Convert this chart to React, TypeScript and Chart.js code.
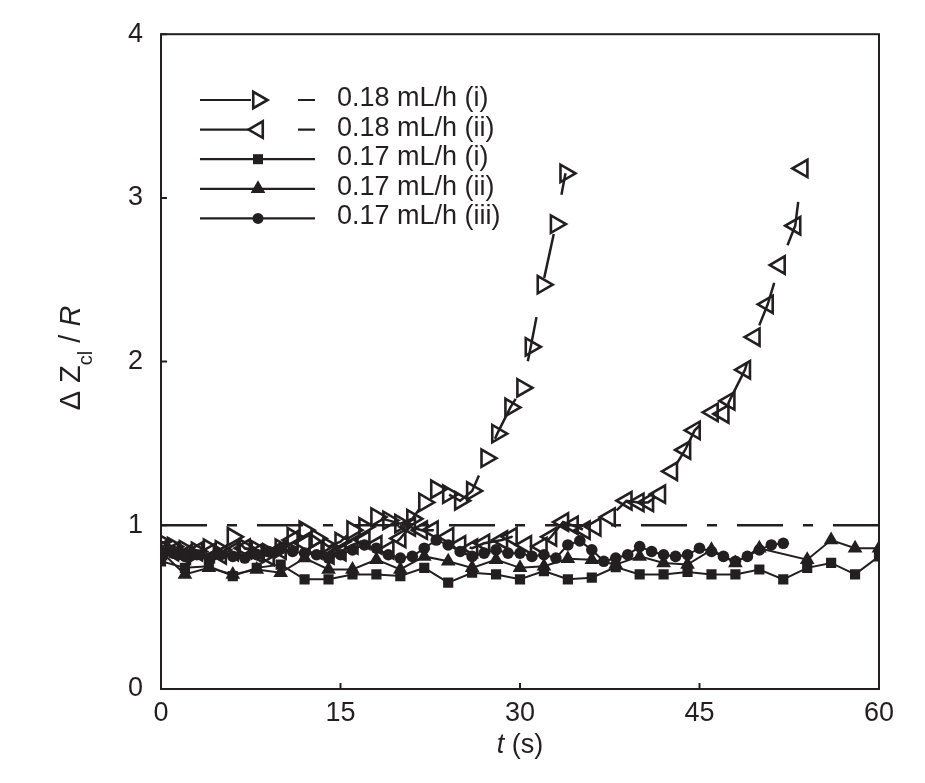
import React, { useEffect, useRef } from 'react';
import { Chart, registerables } from 'chart.js';

Chart.register(...registerables);

const FONT = '"Liberation Sans", Arial, Helvetica, sans-serif';
const INK = '#231f20';

// 0.18 mL/h (i)  open right triangles, dashed
const tA = [0, 1, 2, 3, 4, 5, 6, 7, 8, 9, 10, 11, 12, 13, 14, 15, 16, 17, 18, 19, 20, 21, 22, 23, 24, 25, 26, 27.2, 28.1, 29.2, 30.2, 30.9, 31.9, 33.0, 33.8];
const yA = [0.90, 0.87, 0.85, 0.84, 0.86, 0.85, 0.93, 0.86, 0.85, 0.83, 0.86, 0.93, 0.97, 0.92, 0.87, 0.90, 0.97, 0.99, 1.05, 1.03, 1.01, 1.04, 1.14, 1.22, 1.19, 1.15, 1.21, 1.41, 1.56, 1.72, 1.84, 2.09, 2.47, 2.84, 3.15];

// 0.18 mL/h (ii)  open left triangles, dashed
const tB = [0, 1, 2, 3, 4, 5, 6, 7, 8, 9, 10, 11, 12, 13, 14, 15, 16, 17, 18, 19, 20, 20.8, 21.8, 22.7, 24, 25, 26, 27, 28.5, 29.3, 30.5, 31.8, 32.6, 33.6, 34.4, 35.4, 36.3, 37.5, 38.9, 39.9, 40.7, 41.7, 42.7, 43.8, 44.6, 46.1, 47.0, 47.5, 48.8, 49.6, 50.7, 51.7, 53.0, 53.6];
const yB = [0.85, 0.84, 0.82, 0.84, 0.83, 0.82, 0.84, 0.86, 0.83, 0.81, 0.85, 0.91, 0.89, 0.85, 0.82, 0.84, 0.88, 0.91, 0.88, 0.85, 0.92, 0.99, 0.97, 0.97, 0.93, 0.88, 0.86, 0.89, 0.91, 0.93, 0.88, 0.87, 0.93, 1.02, 1.00, 0.97, 0.99, 1.05, 1.15, 1.14, 1.14, 1.19, 1.33, 1.46, 1.58, 1.69, 1.68, 1.76, 1.95, 2.15, 2.35, 2.59, 2.83, 3.18];

// 0.17 mL/h (i)  filled squares
const tC = [0, 2, 4, 6, 8, 10, 12, 14, 16, 18, 20, 22, 24, 26, 28, 30, 32, 34, 36, 38, 40, 42, 44, 46, 48, 50, 52, 54, 56, 58, 60];
const yC = [0.78, 0.74, 0.75, 0.69, 0.74, 0.76, 0.67, 0.67, 0.70, 0.70, 0.69, 0.74, 0.65, 0.71, 0.70, 0.67, 0.72, 0.67, 0.68, 0.745, 0.70, 0.70, 0.715, 0.70, 0.70, 0.73, 0.67, 0.74, 0.77, 0.70, 0.81];

// 0.17 mL/h (ii)  filled triangles
const tD = [0, 2, 4, 6, 8, 10, 12, 14, 16, 18, 20, 22, 24, 26, 28, 30, 32, 34, 36, 38, 40, 42, 44, 46, 48, 50, 54, 56, 58, 60];
const yD = [0.84, 0.70, 0.74, 0.70, 0.73, 0.71, 0.80, 0.73, 0.73, 0.79, 0.73, 0.81, 0.78, 0.74, 0.79, 0.74, 0.75, 0.795, 0.79, 0.76, 0.81, 0.77, 0.76, 0.85, 0.77, 0.86, 0.79, 0.91, 0.86, 0.86];

// 0.17 mL/h (iii)  filled circles
const tE = [0, 1, 2, 3, 4, 5, 6, 7, 8, 9, 10, 11, 12, 13, 14, 15, 16, 17, 18, 19, 20, 21, 22, 23, 24, 25, 26, 27, 28, 29, 30, 31, 32, 33, 34, 35, 36, 37, 38, 39, 40, 41, 42, 43, 44, 45, 46, 47, 48, 49, 50, 51, 52];
const yE = [0.84, 0.83, 0.81, 0.82, 0.80, 0.82, 0.81, 0.80, 0.82, 0.84, 0.86, 0.84, 0.83, 0.82, 0.80, 0.82, 0.85, 0.88, 0.86, 0.82, 0.80, 0.81, 0.86, 0.91, 0.88, 0.84, 0.81, 0.83, 0.85, 0.83, 0.83, 0.81, 0.82, 0.80, 0.88, 0.905, 0.85, 0.78, 0.80, 0.82, 0.87, 0.84, 0.82, 0.81, 0.82, 0.86, 0.84, 0.81, 0.78, 0.81, 0.85, 0.88, 0.89];

// reference line at 1
const tRef = [0, 60];
const yRef = [1, 1];

const xTicks = [0, 15, 30, 45, 60];
const yTicks = [0, 1, 2, 3, 4];
const legendLabels = ['0.18 mL/h (i)', '0.18 mL/h (ii)', '0.17 mL/h (i)', '0.17 mL/h (ii)', '0.17 mL/h (iii)'];

const pts = (t: number[], y: number[]) => t.map((x, i) => ({ x, y: y[i] }));

function drawMarker(ctx: CanvasRenderingContext2D, kind: string, x: number, y: number) {
  ctx.save();
  ctx.strokeStyle = INK;
  ctx.fillStyle = INK;
  ctx.beginPath();
  if (kind === 'right' || kind === 'left' || kind === 'up') {
    const r = kind === 'up' ? 8.5 : 9.5;
    let rad = kind === 'right' ? Math.PI / 2 : kind === 'left' ? -Math.PI / 2 : 0;
    ctx.moveTo(x + Math.sin(rad) * r, y - Math.cos(rad) * r);
    rad += (2 * Math.PI) / 3;
    ctx.lineTo(x + Math.sin(rad) * r, y - Math.cos(rad) * r);
    rad += (2 * Math.PI) / 3;
    ctx.lineTo(x + Math.sin(rad) * r, y - Math.cos(rad) * r);
    ctx.closePath();
    if (kind === 'up') {
      ctx.fill();
    } else {
      ctx.lineWidth = 2.6;
      ctx.fillStyle = '#fff';
      ctx.fill();
      ctx.stroke();
    }
  } else if (kind === 'square') {
    ctx.rect(x - 5, y - 5, 10, 10);
    ctx.fill();
  } else if (kind === 'circle') {
    ctx.arc(x, y, 5.5, 0, Math.PI * 2);
    ctx.fill();
  }
  ctx.restore();
}

const decorPlugin = {
  id: 'decor',
  afterDraw(chart: any) {
    const { ctx, chartArea: a, scales } = chart;
    ctx.save();
    ctx.strokeStyle = INK;
    ctx.lineWidth = 2;
    ctx.strokeRect(a.left, a.top, a.right - a.left, a.bottom - a.top);
    ctx.beginPath();
    for (const v of xTicks) {
      const px = scales.x.getPixelForValue(v);
      ctx.moveTo(px, a.bottom);
      ctx.lineTo(px, a.bottom - 6);
    }
    for (const v of yTicks) {
      const py = scales.y.getPixelForValue(v);
      ctx.moveTo(a.left, py);
      ctx.lineTo(a.left + 6, py);
    }
    ctx.stroke();

    // legend
    const kinds = ['right', 'left', 'square', 'up', 'circle'];
    legendLabels.forEach((label, i) => {
      const ly = 100 + i * 29.6;
      ctx.strokeStyle = INK;
      ctx.lineWidth = 2.2;
      ctx.setLineDash([]);
      ctx.beginPath();
      if (i < 2) {
        ctx.moveTo(200, ly);
        ctx.lineTo(251, ly);
        ctx.moveTo(298, ly);
        ctx.lineTo(315, ly);
      } else {
        ctx.moveTo(200, ly);
        ctx.lineTo(315, ly);
      }
      ctx.stroke();
      drawMarker(ctx, kinds[i], 258, ly);
      ctx.fillStyle = INK;
      ctx.font = `27px ${FONT}`;
      ctx.textAlign = 'left';
      ctx.textBaseline = 'alphabetic';
      ctx.fillText(label, 337, ly + 6);
    });

    // x title: t (s)
    ctx.fillStyle = INK;
    ctx.textBaseline = 'alphabetic';
    ctx.textAlign = 'left';
    const fI = `italic 27px ${FONT}`;
    const fN = `27px ${FONT}`;
    ctx.font = fI;
    const wT = ctx.measureText('t').width;
    ctx.font = fN;
    const wS = ctx.measureText(' (s)').width;
    const cx = (a.left + a.right) / 2;
    const x0 = cx - (wT + wS) / 2;
    ctx.font = fI;
    ctx.fillText('t', x0, 753);
    ctx.font = fN;
    ctx.fillText(' (s)', x0 + wT, 753);

    // y title: ΔZcl / R
    ctx.save();
    ctx.translate(80, 358);
    ctx.rotate(-Math.PI / 2);
    const fBig = `29px ${FONT}`;
    const fSub = `20px ${FONT}`;
    const fIt = `italic 29px ${FONT}`;
    const parts = [
      { s: '\u0394 Z', f: fBig, dy: 0 },
      { s: 'cl', f: fSub, dy: 12 },
      { s: ' / ', f: fBig, dy: 0 },
      { s: 'R', f: fIt, dy: 0 },
    ];
    let total = 0;
    const ws = parts.map((p) => {
      ctx.font = p.f;
      const w = ctx.measureText(p.s).width;
      total += w;
      return w;
    });
    let px = -total / 2;
    parts.forEach((p, i) => {
      ctx.font = p.f;
      ctx.fillText(p.s, px, p.dy);
      px += ws[i];
    });
    ctx.restore();
    ctx.restore();
  },
};

export default function App() {
  const ref = useRef<HTMLCanvasElement | null>(null);
  useEffect(() => {
    if (!ref.current) return;
    const openTri = (rotation: number) => ({
      pointStyle: 'triangle' as const,
      rotation,
      pointRadius: 10,
      pointBorderWidth: 2.6,
      pointBackgroundColor: 'rgba(0,0,0,0)',
      pointBorderColor: INK,
      borderColor: INK,
      borderWidth: 2.5,
      borderDash: [45, 40],
    });
    const chart = new Chart(ref.current, {
      type: 'line',
      data: {
        datasets: [
          {
            label: 'ref',
            data: pts(tRef, yRef),
            borderColor: INK,
            borderWidth: 2.5,
            borderDash: [46, 20, 10, 20],
            pointRadius: 0,
          },
          {
            label: legendLabels[2],
            data: pts(tC, yC),
            borderColor: INK,
            borderWidth: 2,
            pointStyle: 'rect',
            pointRadius: 7.2,
            pointBorderWidth: 0,
            pointBackgroundColor: INK,
          },
          {
            label: legendLabels[3],
            data: pts(tD, yD),
            borderColor: INK,
            borderWidth: 2,
            pointStyle: 'triangle',
            pointRadius: 8.5,
            pointBorderWidth: 0,
            pointBackgroundColor: INK,
          },
          {
            label: legendLabels[4],
            data: pts(tE, yE),
            borderColor: INK,
            borderWidth: 2,
            pointStyle: 'circle',
            pointRadius: 5.8,
            pointBorderWidth: 0,
            pointBackgroundColor: INK,
          },
          { label: legendLabels[0], data: pts(tA, yA), ...openTri(90) },
          { label: legendLabels[1], data: pts(tB, yB), ...openTri(-90) },
        ],
      },
      options: {
        animation: false,
        responsive: false,
        events: [],
        layout: { padding: { top: 34, right: 46, left: 0, bottom: 0 } },
        plugins: { legend: { display: false }, tooltip: { enabled: false }, title: { display: false } },
        elements: { line: { tension: 0 } },
        scales: {
          x: {
            type: 'linear',
            min: 0,
            max: 60,
            afterFit: (s: any) => {
              s.height = 94;
            },
            afterBuildTicks: (s: any) => {
              s.ticks = xTicks.map((v) => ({ value: v }));
            },
            grid: { display: false, drawTicks: false },
            border: { display: false },
            ticks: { color: INK, font: { family: FONT, size: 27 }, padding: 8, maxRotation: 0 },
          },
          y: {
            type: 'linear',
            min: 0,
            max: 4,
            afterFit: (s: any) => {
              s.width = 161;
            },
            afterBuildTicks: (s: any) => {
              s.ticks = yTicks.map((v) => ({ value: v }));
            },
            grid: { display: false, drawTicks: false },
            border: { display: false },
            ticks: { color: INK, font: { family: FONT, size: 27 }, padding: 18 },
          },
        },
      },
      plugins: [decorPlugin],
    });
    return () => chart.destroy();
  }, []);
  return (
    <div style={{ position: 'absolute', left: 0, top: 0, width: 925, height: 783, background: '#fff' }}>
      <canvas ref={ref} width={925} height={783} style={{ display: 'block' }} />
    </div>
  );
}
